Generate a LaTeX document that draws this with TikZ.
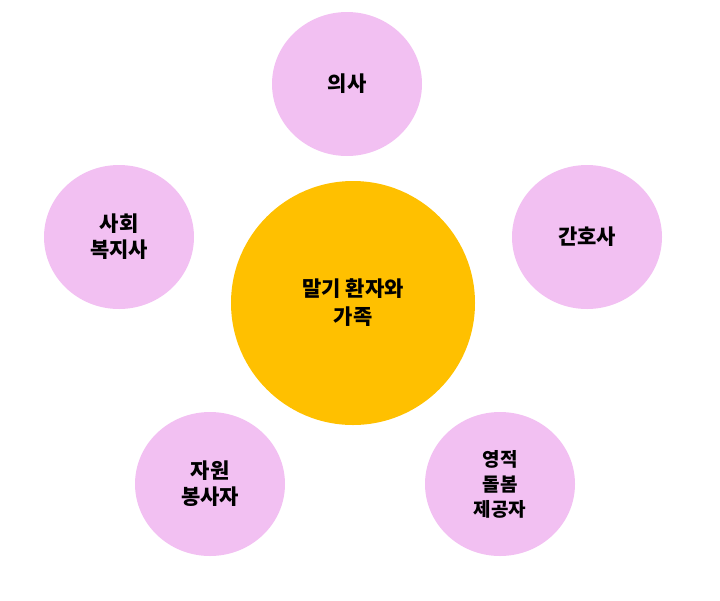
\documentclass[tikz,border=0pt]{standalone}
\usepackage{fontspec}
\usetikzlibrary{shapes.geometric}
\setmainfont{Noto Sans CJK KR}
\begin{document}
\begin{tikzpicture}[x=1pt,y=-1pt,
  pinkel/.style={fill={rgb,255:red,242;green,192;blue,242},draw=none,ellipse,minimum width=150,minimum height=144,inner sep=0pt,align=center,font=\fontsize{21}{26}\selectfont\bfseries},
  hub/.style={fill={rgb,255:red,255;green,192;blue,0},draw=none,circle,minimum size=244,inner sep=0pt,align=center,font=\fontsize{21}{28}\selectfont\bfseries}]
\useasboundingbox (0,0) rectangle (720,600);
\node[hub] (c) at (353,303) {말기 환자와\\가족};
\node[pinkel] (a) at (347,84) {의사};
\node[pinkel] (b) at (587,237) {간호사};
\node[pinkel,font=\fontsize{19}{25}\selectfont\bfseries] (d) at (500,484) {영적\\돌봄\\제공자};
\node[pinkel] (e) at (210,484) {자원\\봉사자};
\node[pinkel] (f) at (119,237) {사회\\복지사};
\end{tikzpicture}
\end{document}
